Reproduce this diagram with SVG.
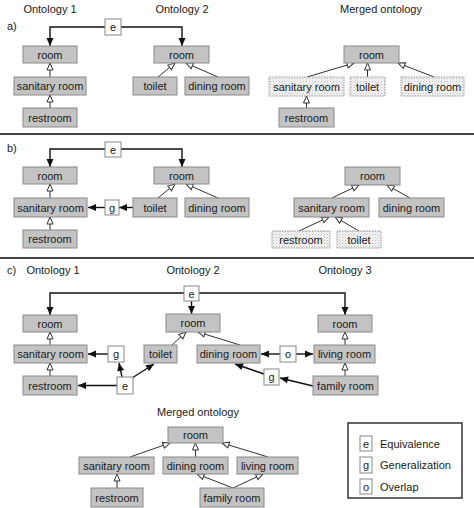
<svg xmlns="http://www.w3.org/2000/svg" width="474" height="508" viewBox="0 0 474 508">
<defs>
<pattern id="dots" width="3" height="3" patternUnits="userSpaceOnUse">
<rect width="3" height="3" fill="#f4f4f4"/>
<rect x="0" y="0" width="1" height="1" fill="#bdbdbd"/>
<rect x="1.5" y="1.5" width="1" height="1" fill="#d2d2d2"/>
</pattern>
<marker id="fa" markerUnits="userSpaceOnUse" markerWidth="9" markerHeight="8" refX="8" refY="3.5" orient="auto" overflow="visible">
<path d="M0,0 L8,3.5 L0,7 z" fill="#111"/>
</marker>
<marker id="ha" markerUnits="userSpaceOnUse" markerWidth="9" markerHeight="8" refX="7" refY="3" orient="auto" overflow="visible">
<path d="M0,0 L7,3 L0,6 z" fill="#fff" stroke="#333" stroke-width="1"/>
</marker>
</defs>
<style>
text{font-family:"Liberation Sans",Arial,sans-serif;font-size:11px;fill:#1a1a1a}
.t{text-anchor:middle}
.n rect{fill:#c3c3c3;stroke:#8a8a8a;stroke-width:1}
.d rect{fill:url(#dots);stroke:#9a9a9a;stroke-width:1;stroke-dasharray:1.5,1}
.r rect{fill:#fff;stroke:#888;stroke-width:1}
.s{fill:none;stroke:#111;stroke-width:1.4;marker-end:url(#fa)}
.h{fill:none;stroke:#333;stroke-width:1;marker-end:url(#ha)}
.sep{stroke:#444;stroke-width:2}
</style>

<!-- titles -->
<g id="titles">
<text class="t" x="50" y="13">Ontology 1</text>
<text class="t" x="182" y="13">Ontology 2</text>
<text class="t" x="381" y="13">Merged ontology</text>
<text x="7" y="30">a)</text>
<text x="7" y="152">b)</text>
<text x="7" y="274">c)</text>
<text class="t" x="53" y="274">Ontology 1</text>
<text class="t" x="193" y="274">Ontology 2</text>
<text class="t" x="345" y="274">Ontology 3</text>
<text class="t" x="198" y="416">Merged ontology</text>
</g>

<g id="separators">
<line class="sep" x1="0" y1="134" x2="474" y2="134"/>
<line class="sep" x1="0" y1="258" x2="474" y2="258"/>
</g>

<!-- connectors -->
<g id="connectors">
<!-- a -->
<path class="s" d="M105,27 H50 V46"/>
<path class="s" d="M121,27 H182 V46"/>
<path class="h" d="M50,77 V63"/>
<path class="h" d="M50,108 V95"/>
<path class="h" d="M158,77 L175,63"/>
<path class="h" d="M218,77 L186,63"/>
<path class="h" d="M307,77 L354,63"/>
<path class="h" d="M367.5,77 V63"/>
<path class="h" d="M434,77 L398,63"/>
<path class="h" d="M306.5,108 V96"/>
<!-- b -->
<path class="s" d="M105,149 H50 V167"/>
<path class="s" d="M121,149 H182 V167"/>
<path class="h" d="M50,198 V184"/>
<path class="h" d="M50,230 V217"/>
<path class="h" d="M158,198 L175,184"/>
<path class="h" d="M218,198 L186,184"/>
<path class="s" d="M133,207.5 H119"/>
<path class="s" d="M105,207.5 H88"/>
<path class="h" d="M332,198 L359,185"/>
<path class="h" d="M410,198 L387,185"/>
<path class="h" d="M299,231 L329,217"/>
<path class="h" d="M359,231 L335,217"/>
<!-- c -->
<path class="s" d="M184,293 H50 V315"/>
<path class="s" d="M199,293 H345 V315"/>
<path class="s" d="M191.5,301 V314"/>
<path class="h" d="M50,345 V332"/>
<path class="h" d="M50,376 V363"/>
<path class="s" d="M108,354 H88"/>
<path class="s" d="M117,385.5 H78"/>
<path class="s" d="M122,377 L119,363"/>
<path class="s" d="M132,378 L154,364"/>
<path class="h" d="M172,345 L186,332"/>
<path class="h" d="M240,345 L198,332"/>
<path class="s" d="M280,354 H261"/>
<path class="s" d="M296,354 H313"/>
<path class="h" d="M345,345 V332"/>
<path class="h" d="M345,376 V363"/>
<path class="s" d="M313,386 L280,378"/>
<path class="s" d="M264,374 L235,364"/>
<!-- merged c -->
<path class="h" d="M130,457 L170,443"/>
<path class="h" d="M195.5,457 V443"/>
<path class="h" d="M268,457 L222,443"/>
<path class="h" d="M117,488 V474"/>
<path class="h" d="M233,488 L197,474"/>
<path class="h" d="M233,488 L263,474"/>
</g>

<!-- section a -->
<g id="a-o1-room" class="n"><rect x="23" y="46" width="54" height="17"/><text class="t" x="50" y="58.5">room</text></g>
<g id="a-o1-sanitary" class="n"><rect x="14" y="77" width="72" height="18"/><text class="t" x="50" y="90">sanitary room</text></g>
<g id="a-o1-restroom" class="n"><rect x="23" y="108" width="54" height="19"/><text class="t" x="50" y="121.5">restroom</text></g>
<g id="a-e" class="r"><rect x="105" y="19" width="16" height="16"/><text class="t" x="113" y="31">e</text></g>
<g id="a-o2-room" class="n"><rect x="154" y="46" width="55" height="17"/><text class="t" x="181.5" y="58.5">room</text></g>
<g id="a-o2-toilet" class="n"><rect x="133" y="77" width="44" height="18"/><text class="t" x="155" y="90">toilet</text></g>
<g id="a-o2-dining" class="n"><rect x="185" y="77" width="64" height="18"/><text class="t" x="217" y="90">dining room</text></g>
<g id="a-m-room" class="n"><rect x="344" y="46" width="55" height="17"/><text class="t" x="371.5" y="58.5">room</text></g>
<g id="a-m-sanitary" class="d"><rect x="269" y="77" width="75" height="19"/><text class="t" x="306.5" y="90.5">sanitary room</text></g>
<g id="a-m-toilet" class="d"><rect x="350" y="77" width="35" height="19"/><text class="t" x="367.5" y="90.5">toilet</text></g>
<g id="a-m-dining" class="d"><rect x="401" y="77" width="63" height="19"/><text class="t" x="432.5" y="90.5">dining room</text></g>
<g id="a-m-restroom" class="n"><rect x="279" y="108" width="55" height="19"/><text class="t" x="306.5" y="121.5">restroom</text></g>

<!-- section b -->
<g id="b-o1-room" class="n"><rect x="23" y="167" width="54" height="17"/><text class="t" x="50" y="179.5">room</text></g>
<g id="b-o1-sanitary" class="n"><rect x="14" y="198" width="73" height="19"/><text class="t" x="50.5" y="211.5">sanitary room</text></g>
<g id="b-o1-restroom" class="n"><rect x="23" y="230" width="54" height="18"/><text class="t" x="50" y="243">restroom</text></g>
<g id="b-e" class="r"><rect x="105" y="142" width="16" height="15"/><text class="t" x="113" y="153.5">e</text></g>
<g id="b-g" class="r"><rect x="105" y="200" width="14" height="15"/><text class="t" x="112" y="211.5">g</text></g>
<g id="b-o2-room" class="n"><rect x="154" y="167" width="55" height="17"/><text class="t" x="181.5" y="179.5">room</text></g>
<g id="b-o2-toilet" class="n"><rect x="133" y="198" width="44" height="19"/><text class="t" x="155" y="211.5">toilet</text></g>
<g id="b-o2-dining" class="n"><rect x="185" y="198" width="64" height="19"/><text class="t" x="217" y="211.5">dining room</text></g>
<g id="b-m-room" class="n"><rect x="345" y="167" width="55" height="18"/><text class="t" x="372.5" y="180">room</text></g>
<g id="b-m-sanitary" class="n"><rect x="294" y="198" width="75" height="19"/><text class="t" x="331.5" y="211.5">sanitary room</text></g>
<g id="b-m-dining" class="n"><rect x="379" y="198" width="65" height="19"/><text class="t" x="411.5" y="211.5">dining room</text></g>
<g id="b-m-restroom" class="d"><rect x="272" y="231" width="58" height="17"/><text class="t" x="301" y="243.5">restroom</text></g>
<g id="b-m-toilet" class="d"><rect x="337" y="231" width="44" height="17"/><text class="t" x="359" y="243.5">toilet</text></g>

<!-- section c -->
<g id="c-e1" class="r"><rect x="184" y="286" width="15" height="15"/><text class="t" x="191.5" y="297.5">e</text></g>
<g id="c-o1-room" class="n"><rect x="23" y="315" width="54" height="17"/><text class="t" x="50" y="327.5">room</text></g>
<g id="c-o1-sanitary" class="n"><rect x="14" y="345" width="73" height="18"/><text class="t" x="50.5" y="358">sanitary room</text></g>
<g id="c-o1-restroom" class="n"><rect x="23" y="376" width="54" height="19"/><text class="t" x="50" y="389.5">restroom</text></g>
<g id="c-g1" class="r"><rect x="108" y="346" width="16" height="16"/><text class="t" x="116" y="358">g</text></g>
<g id="c-e2" class="r"><rect x="117" y="377" width="16" height="17"/><text class="t" x="125" y="389.5">e</text></g>
<g id="c-o2-room" class="n"><rect x="166" y="314" width="54" height="18"/><text class="t" x="193" y="327">room</text></g>
<g id="c-o2-toilet" class="n"><rect x="144" y="345" width="33" height="18"/><text class="t" x="160.5" y="358">toilet</text></g>
<g id="c-o2-dining" class="n"><rect x="197" y="345" width="63" height="18"/><text class="t" x="228.5" y="358">dining room</text></g>
<g id="c-o" class="r"><rect x="280" y="346" width="16" height="16"/><text class="t" x="288" y="358">o</text></g>
<g id="c-g2" class="r"><rect x="264" y="369" width="15" height="16"/><text class="t" x="271.5" y="381">g</text></g>
<g id="c-o3-room" class="n"><rect x="318" y="315" width="54" height="17"/><text class="t" x="345" y="327.5">room</text></g>
<g id="c-o3-living" class="n"><rect x="314" y="345" width="61" height="18"/><text class="t" x="344.5" y="358">living room</text></g>
<g id="c-o3-family" class="n"><rect x="313" y="376" width="65" height="19"/><text class="t" x="345.5" y="389.5">family room</text></g>

<!-- merged c -->
<g id="m-room" class="n"><rect x="168" y="427" width="55" height="16"/><text class="t" x="195.5" y="439">room</text></g>
<g id="m-sanitary" class="n"><rect x="79" y="457" width="75" height="17"/><text class="t" x="116.5" y="469.5">sanitary room</text></g>
<g id="m-dining" class="n"><rect x="163" y="457" width="65" height="17"/><text class="t" x="195.5" y="469.5">dining room</text></g>
<g id="m-living" class="n"><rect x="237" y="457" width="61" height="17"/><text class="t" x="267.5" y="469.5">living room</text></g>
<g id="m-restroom" class="n"><rect x="91" y="488" width="52" height="19"/><text class="t" x="117" y="501.5">restroom</text></g>
<g id="m-family" class="n"><rect x="200" y="488" width="64" height="19"/><text class="t" x="232" y="501.5">family room</text></g>

<!-- legend -->
<g id="legend">
<rect x="348" y="423" width="114" height="75" fill="#fff" stroke="#333" stroke-width="1.5"/>
<g class="r"><rect x="360" y="436" width="12" height="15"/><text class="t" x="366" y="447.5">e</text></g>
<text x="380" y="447.5">Equivalence</text>
<g class="r"><rect x="360" y="457" width="12" height="16"/><text class="t" x="366" y="469">g</text></g>
<text x="380" y="469">Generalization</text>
<g class="r"><rect x="360" y="479" width="12" height="15"/><text class="t" x="366" y="490.5">o</text></g>
<text x="380" y="490.5">Overlap</text>
</g>
</svg>
